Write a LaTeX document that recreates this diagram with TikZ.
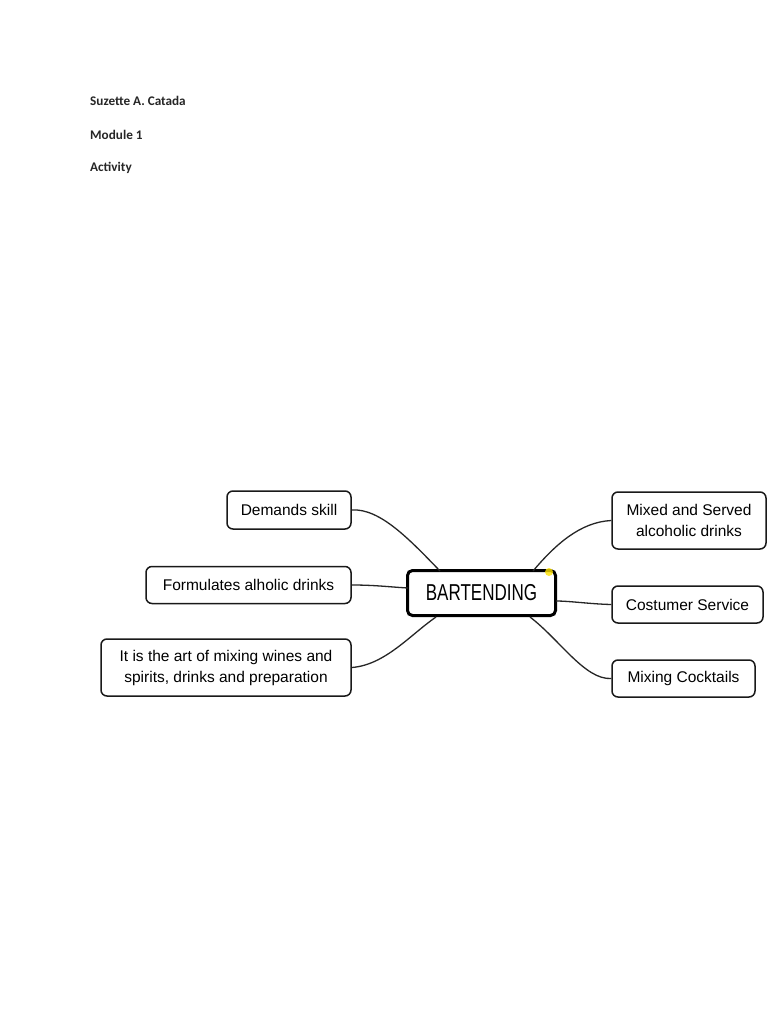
\documentclass[tikz,border=0pt]{standalone}
\usepackage{fontspec}
\setmainfont{Liberation Sans}
\newfontfamily\headfont{Carlito}
\newfontfamily\bartfont[FakeStretch=0.74]{Liberation Sans}
\begin{document}
\begin{tikzpicture}[x=1pt,y=-1pt]
\tikzset{
  head/.style={anchor=west, inner sep=0pt, font=\headfont\bfseries\fontsize{13.2}{15}\selectfont, text=black!85},
  leaf/.style={draw=black!90, line width=1.5pt, rounded corners=6pt, fill=white, align=center,
    inner sep=0pt, font=\fontsize{15.5}{21}\selectfont, text=black},
  hub/.style={draw=black, line width=3pt, rounded corners=5pt, fill=white, inner sep=0pt,
    font=\bartfont\fontsize{23}{26}\selectfont, text=black},
  link/.style={draw=black!85, line width=1.3pt}
}
\fill[white] (0,0) rectangle (768,1024);
\useasboundingbox (0,0) rectangle (768,1024);

\node[head] (name) at (90,101) {Suzette A. Catada};
\node[head] (mod) at (90,135) {Module 1};
\node[head] (act) at (90,168) {Activity};

\node[hub, minimum width=148pt, minimum height=45pt] (hub) at (481.5,593) {BARTENDING};

\node[leaf, minimum width=124pt, minimum height=38pt] (ds) at (289,510) {Demands skill};
\node[leaf, minimum width=205pt, minimum height=37pt] (fa) at (248.5,585) {Formulates alholic drinks};
\node[leaf, minimum width=250pt, minimum height=57pt] (art) at (226,667.5) {It is the art of mixing wines and\\spirits, drinks and preparation};

\node[leaf, minimum width=154pt, minimum height=57pt] (ms) at (689,520.5) {Mixed and Served\\alcoholic drinks};
\node[leaf, minimum width=151pt, minimum height=37pt] (cs) at (687.5,604.5) {Costumer Service};
\node[leaf, minimum width=143pt, minimum height=37pt] (mc) at (683.5,678.5) {Mixing Cocktails};

\coordinate (h1) at (440,571);
\coordinate (h2) at (408,588);
\coordinate (h3) at (436,617);
\coordinate (h4) at (533,571);
\coordinate (h5) at (556,601);
\coordinate (h6) at (530,617);

\draw[link] (ds.east) .. controls (380,508) and (410,540) .. (h1);
\draw[link] (fa.east) .. controls (375,585) and (390,587) .. (h2);
\draw[link] (art.east) .. controls (385,665) and (410,635) .. (h3);
\draw[link] (ms.west) .. controls (580,522) and (555,545) .. (h4);
\draw[link] (cs.west) .. controls (590,604) and (570,601) .. (h5);
\draw[link] (mc.west) .. controls (585,680) and (560,640) .. (h6);

\fill[yellow!85!orange, opacity=0.8] (549,572) circle (4pt);
\end{tikzpicture}
\end{document}
